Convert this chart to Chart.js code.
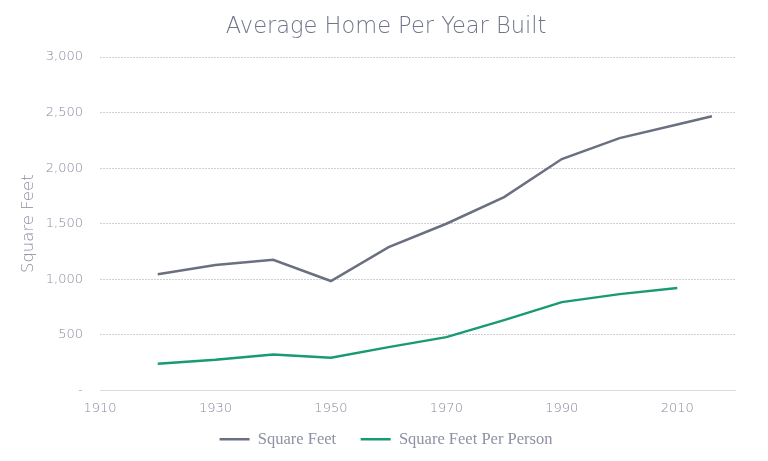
<!DOCTYPE html>
<html>
<head>
<meta charset="utf-8">
<script src="https://cdn.jsdelivr.net/npm/chart.js@4/dist/chart.umd.min.js"></script>
<style>
  html, body { margin: 0; padding: 0; background: #ffffff; }
  #wrap { width: 768px; height: 461px; }
</style>
</head>
<body>
<div id="wrap"><canvas id="c" width="768" height="461"></canvas></div>
<script>
const chartTitle = "Average Home Per Year Built";
const yAxisTitle = "Square Feet";
const seriesNames = ["Square Feet", "Square Feet Per Person"];
const sqftYears = [1920, 1930, 1940, 1950, 1960, 1970, 1980, 1990, 2000, 2010, 2016];
const sqftValues = [1045, 1128, 1176, 985, 1290, 1500, 1740, 2082, 2270, 2392, 2467];
const perPersonYears = [1920, 1930, 1940, 1950, 1960, 1970, 1980, 1990, 2000, 2010];
const perPersonValues = [240, 276, 324, 294, 390, 480, 633, 795, 867, 921];
const xTickValues = [1910, 1930, 1950, 1970, 1990, 2010];
const yTickValues = [0, 500, 1000, 1500, 2000, 2500, 3000];

const toPoints = (xs, ys) => xs.map((x, i) => ({ x: x, y: ys[i] }));

const labelColor = "#868a9c";
const sansFont = "'DejaVu Sans', 'Lato', sans-serif";
const padLeft = 37;

new Chart(document.getElementById("c"), {
  type: "line",
  data: {
    datasets: [
      {
        label: seriesNames[0],
        data: toPoints(sqftYears, sqftValues),
        borderColor: "#6b7080",
        backgroundColor: "#6b7080",
        borderWidth: 2.5,
        pointRadius: 0,
        tension: 0
      },
      {
        label: seriesNames[1],
        data: toPoints(perPersonYears, perPersonValues),
        borderColor: "#1a9a74",
        backgroundColor: "#1a9a74",
        borderWidth: 2.5,
        pointRadius: 0,
        tension: 0
      }
    ]
  },
  options: {
    responsive: false,
    animation: false,
    events: [],
    layout: { padding: { left: padLeft, right: 33, top: 0, bottom: 3.5 } },
    plugins: {
      title: {
        display: true,
        text: chartTitle,
        color: "#6f7589",
        font: { family: sansFont, size: 22.5, weight: 200 },
        padding: { top: 13.5, bottom: 16.5 }
      },
      legend: {
        display: true,
        position: "bottom",
        labels: {
          color: "#8d91a3",
          font: { family: "'Liberation Serif', 'DejaVu Serif', serif", size: 16.5 },
          usePointStyle: true,
          pointStyle: "line",
          pointStyleWidth: 30,
          padding: 8,
          generateLabels: (chart) => {
            const items = Chart.defaults.plugins.legend.labels.generateLabels(chart);
            items.forEach((it, i) => { if (i < items.length - 1) it.text = it.text + "    "; });
            return items;
          }
        }
      },
      tooltip: { enabled: false }
    },
    scales: {
      x: {
        type: "linear",
        min: 1910,
        max: 2020,
        afterBuildTicks: (scale) => { scale.ticks = xTickValues.map(v => ({ value: v })); },
        afterFit: (scale) => { scale.height = 32.5; },
        grid: { display: false, drawTicks: false },
        border: { display: true, color: "#d9dae3", width: 1 },
        ticks: {
          color: labelColor,
          font: { family: sansFont, size: 13, weight: 200 },
          padding: 10,
          maxRotation: 0,
          autoSkip: false,
          callback: (v) => String(v)
        }
      },
      y: {
        type: "linear",
        min: 0,
        max: 3000,
        afterBuildTicks: (scale) => { scale.ticks = yTickValues.map(v => ({ value: v })); },
        afterFit: (scale) => { scale.width = 100 - padLeft; },
        grid: {
          drawTicks: false,
          color: (ctx) => (ctx.tick && ctx.tick.value === 0) ? "rgba(0,0,0,0)" : "#cfd0d8",
          lineWidth: 1
        },
        border: { display: false, dash: [2, 1] },
        ticks: {
          color: labelColor,
          font: { family: sansFont, size: 13, weight: 200 },
          padding: 17,
          callback: (v) => v === 0 ? "-" : v.toLocaleString("en-US")
        },
        title: {
          display: true,
          text: yAxisTitle,
          color: labelColor,
          font: { family: sansFont, size: 16.5, weight: 200 },
          padding: { top: 29 - padLeft - 10, bottom: 0 }
        }
      }
    }
  }
});
</script>
</body>
</html>
